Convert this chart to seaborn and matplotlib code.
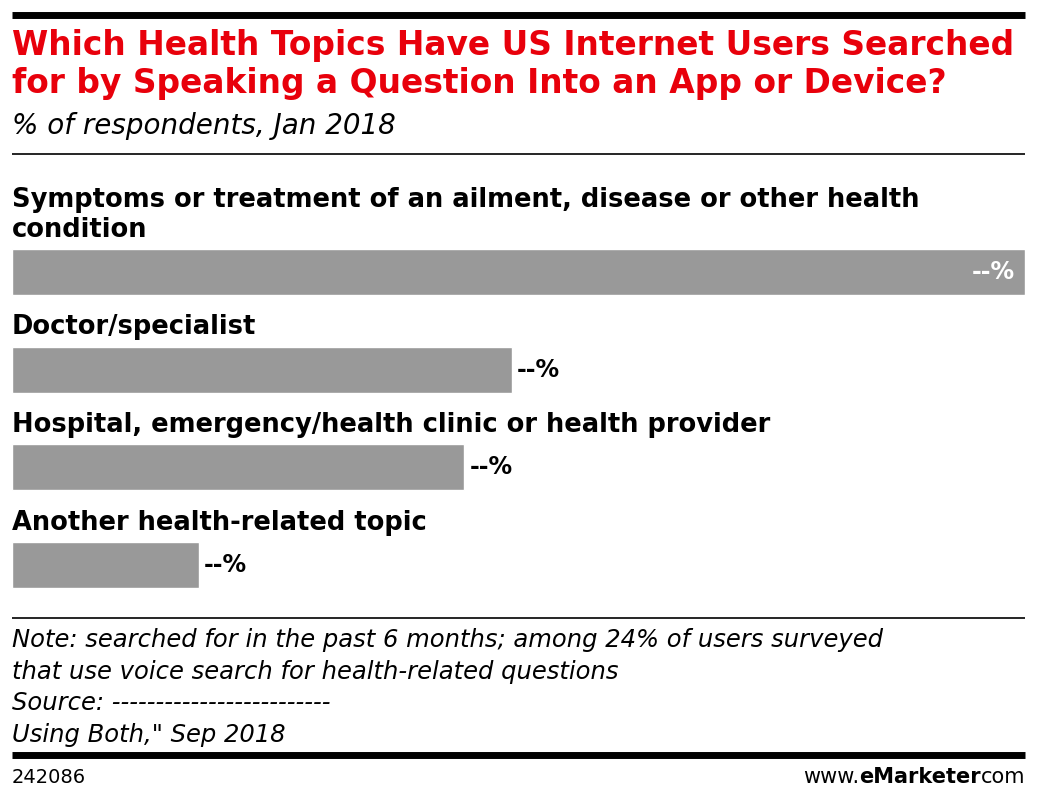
import matplotlib.pyplot as plt
import seaborn as sns
import pandas as pd

categories = [
    "Symptoms or treatment of an ailment, disease or other health\ncondition",
    "Doctor/specialist",
    "Hospital, emergency/health clinic or health provider",
    "Another health-related topic",
]
# bar lengths (value labels are masked as "--%")
values = [58.0, 28.6, 25.9, 10.7]
value_labels = ["--%", "--%", "--%", "--%"]

W, H = 1038, 805
sns.set_theme(style="white")
plt.rcParams["font.family"] = ["DejaVu Sans"]
plt.rcParams["text.color"] = "black"
fig = plt.figure(figsize=(W / 100, H / 100), dpi=100)


def fy(px):
    return 1 - px / H


def fx(px):
    return px / W


# frame lines
for y, lw in [(15, 5), (154, 1.2), (618, 1.2), (755, 5)]:
    fig.add_artist(plt.Line2D([fx(12), fx(1025)], [fy(y), fy(y)], color="black",
                              lw=lw, solid_capstyle="butt"))

fig.text(fx(12), fy(45), "Which Health Topics Have US Internet Users Searched",
         color="#e8000b", fontsize=23.7, fontweight="bold", va="center")
fig.text(fx(12), fy(83), "for by Speaking a Question Into an App or Device?",
         color="#e8000b", fontsize=23.7, fontweight="bold", va="center")
fig.text(fx(12), fy(126), "% of respondents, Jan 2018", fontsize=20, style="italic", va="center")

notes = [
    "Note: searched for in the past 6 months; among 24% of users surveyed",
    "that use voice search for health-related questions",
    "Source: -------------------------",
    "Using Both,\" Sep 2018",
]
for i, line in enumerate(notes):
    fig.text(fx(12), fy(640 + i * 31.5), line, fontsize=17.5, style="italic", va="center")
fig.text(fx(12), fy(777), "242086", fontsize=14, va="center")

# footer brand, laid out right to left
fig.canvas.draw()
r = fig.canvas.get_renderer()
x_right = fx(1025)
for part, weight in [("com", "normal"), ("eMarketer", "bold"), ("www.", "normal")]:
    t = fig.text(x_right, fy(777), part, fontsize=15, fontweight=weight, va="center", ha="right")
    x_right -= t.get_window_extent(r).width / W

# bars
ax = fig.add_axes([fx(12), fy(614), fx(1025) - fx(12), (614 - 223) / H])
df = pd.DataFrame({"cat": categories, "val": values})
sns.barplot(data=df, x="val", y="cat", orient="h", color="#999999", width=0.47,
            saturation=1, ax=ax)
ax.set_xlim(0, values[0])
ax.set_ylim(3.5, -0.5)
ax.axis("off")

for i, (cat, v, lab) in enumerate(zip(categories, values, value_labels)):
    ax.text(0, i - 0.30, cat, fontsize=18.5, fontweight="bold", va="bottom", ha="left",
            linespacing=1.2, clip_on=False)
    if i == 0:
        ax.text(v - 0.6, i, lab, color="white", fontsize=17, fontweight="bold",
                va="center", ha="right")
    else:
        ax.text(v + 0.3, i, lab, color="black", fontsize=17, fontweight="bold",
                va="center", ha="left")

fig.savefig("out.png", dpi=100)
